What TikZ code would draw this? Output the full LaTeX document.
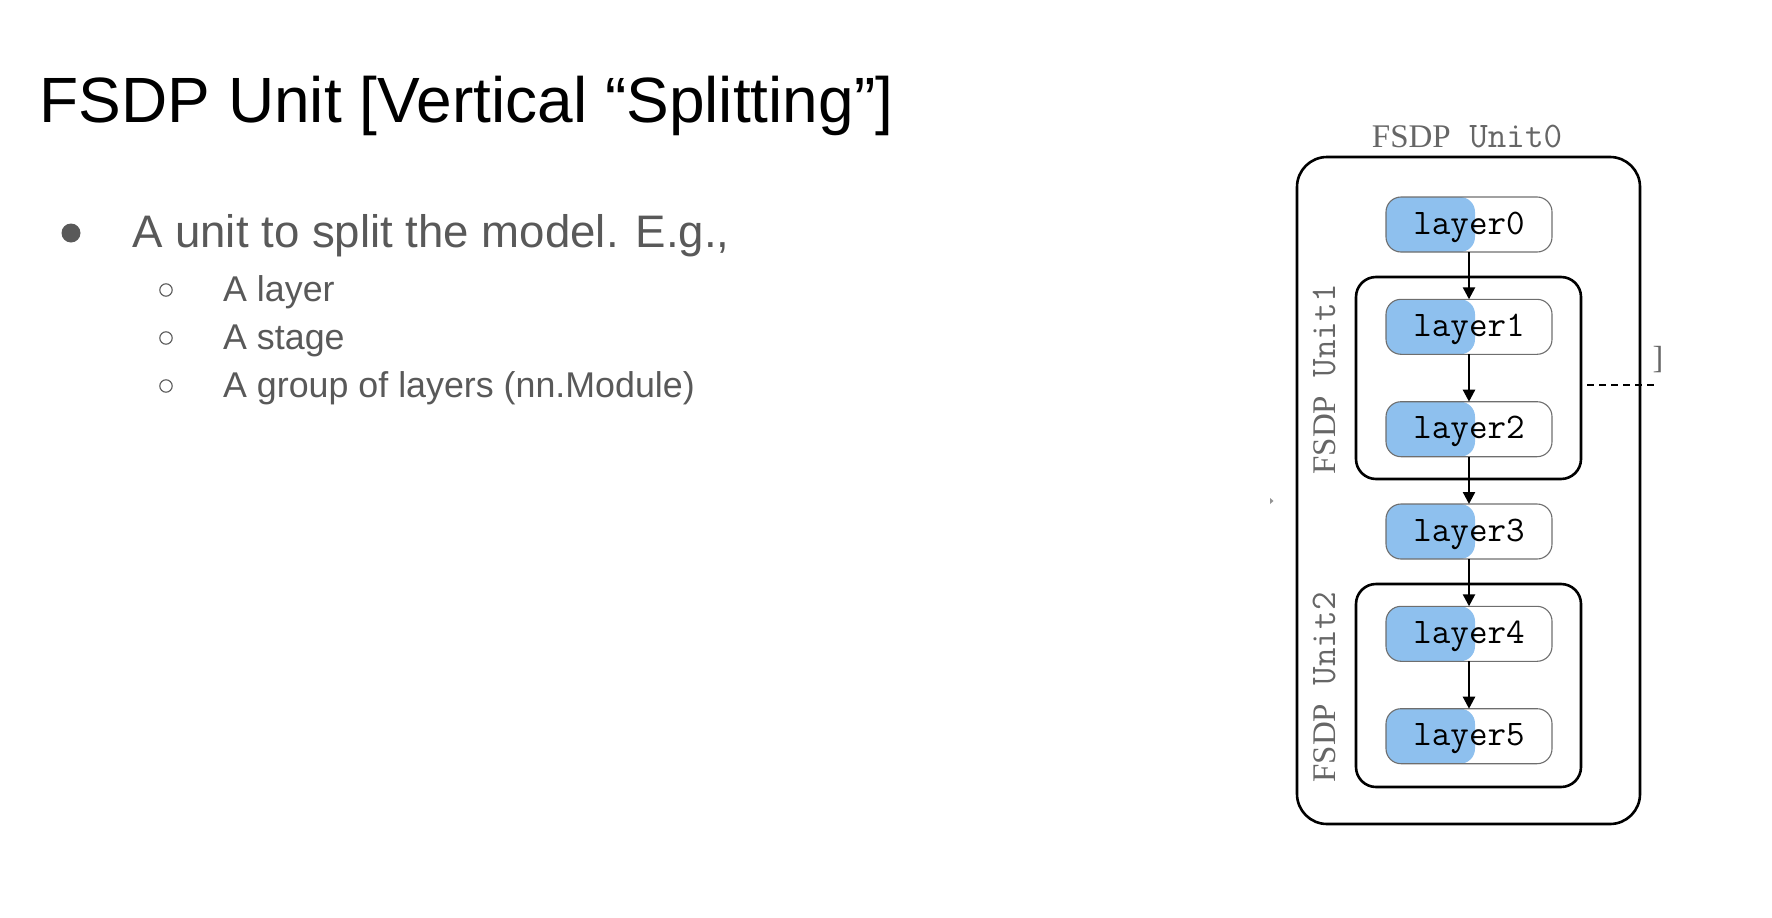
\documentclass[tikz,border=0pt]{standalone}
\usepackage{fontspec}
\setmainfont{Liberation Sans}
\newfontfamily\serifff{Liberation Serif}
\usetikzlibrary{arrows.meta}
\definecolor{lblue}{HTML}{8EC0EE}
\definecolor{bodygray}{HTML}{595959}
\definecolor{labgray}{HTML}{666666}
\definecolor{boxgray}{HTML}{6E6E6E}
\tikzset{
  layerbox/.style={rounded corners=15pt, minimum width=166pt, minimum height=55pt,
    inner sep=0pt, outer sep=0pt, text height=24pt, text depth=5pt,
    font=\ttfamily\fontsize{36}{36}\selectfont, text=black,
    path picture={\fill[lblue, rounded corners=15pt]
      ([xshift=-20pt]path picture bounding box.south west) rectangle
      ([xshift=89pt]path picture bounding box.north west);}},
  layeredge/.style={draw=boxgray, line width=1.1pt, rounded corners=15pt},
  unitbox/.style={draw=black, line width=2.6pt, inner sep=0pt, outer sep=0pt},
  arr/.style={-{Triangle[length=12pt,width=12pt]}, line width=2.4pt},
  dashline/.style={line width=2.6pt, dash pattern=on 7pt off 5pt},
  unitlabel/.style={inner sep=0pt, text=labgray},
  bodytext/.style={inner sep=0pt, anchor=base west, text=bodygray},
}
\begin{document}
\begin{tikzpicture}[x=1pt,y=-1pt]
\useasboundingbox (0,0) rectangle (1772,918);

% left side text
\node[inner sep=0pt, anchor=base west, text=black, font=\fontsize{64}{64}\selectfont] (title) at (39.5,122) {FSDP Unit [Vertical “Splitting”]};
\fill[bodygray] (71,233) circle (9.5);
\node[bodytext, font=\fontsize{45.6}{46}\selectfont] (b1) at (132,247) {A unit to split the model. E.g.,};
\draw[bodygray, line width=1.1pt] (166,290) circle (6.2);
\draw[bodygray, line width=1.1pt] (166,338) circle (6.2);
\draw[bodygray, line width=1.1pt] (166,386) circle (6.2);
\node[bodytext, font=\fontsize{35.8}{36}\selectfont] (s1) at (223,301) {A layer};
\node[bodytext, font=\fontsize{35.8}{36}\selectfont] (s2) at (223,349) {A stage};
\node[bodytext, font=\fontsize{35.8}{36}\selectfont] (s3) at (223,397) {A group of layers (nn.Module)};

% unit boxes
\node[unitbox, rounded corners=30pt, minimum width=343pt, minimum height=667pt] (u0) at (1468.5,490.5) {};
\node[unitbox, rounded corners=20pt, minimum width=225pt, minimum height=202pt] (u1) at (1468.5,378) {};
\node[unitbox, rounded corners=20pt, minimum width=225pt, minimum height=203pt] (u2) at (1468.5,685.5) {};

% unit labels
\node[unitlabel, anchor=base] (lab0) at (1467,147) {\serifff\fontsize{33}{33}\selectfont FSDP\ttfamily\fontsize{36}{36}\selectfont\ Unit0};
\node[unitlabel, anchor=base, rotate=90] (lab1) at (1335,379.5) {\serifff\fontsize{33}{33}\selectfont FSDP\ttfamily\fontsize{36}{36}\selectfont\ Unit1};
\node[unitlabel, anchor=base, rotate=90] (lab2) at (1335,687.5) {\serifff\fontsize{33}{33}\selectfont FSDP\ttfamily\fontsize{36}{36}\selectfont\ Unit2};

% layers
\node[layerbox] (l0) at (1469,224.5) {layer0};
\node[layerbox] (l1) at (1469,326.8) {layer1};
\node[layerbox] (l2) at (1469,429.2) {layer2};
\node[layerbox] (l3) at (1469,531.5) {layer3};
\node[layerbox] (l4) at (1469,633.8) {layer4};
\node[layerbox] (l5) at (1469,736.2) {layer5};
\foreach \n in {l0,l1,l2,l3,l4,l5}
  \draw[layeredge] (\n.south west) rectangle (\n.north east);

% arrows
\draw[arr] (l0) -- (l1);
\draw[arr] (l1) -- (l2);
\draw[arr] (l2) -- (l3);
\draw[arr] (l3) -- (l4);
\draw[arr] (l4) -- (l5);

% dashed line and bracket
\coordinate (dashend) at (1656,385);
\draw[dashline] ([shift={(6,7)}]u1.east) -- (dashend);
\node[inner sep=0pt, text=labgray, font=\serifff\fontsize{32}{32}\selectfont] (brk) at (1658,359.5) {]};

% tiny mark
\fill[labgray!70] (1270,498) -- (1273.5,501) -- (1270,504) -- cycle;
\end{tikzpicture}
\end{document}
